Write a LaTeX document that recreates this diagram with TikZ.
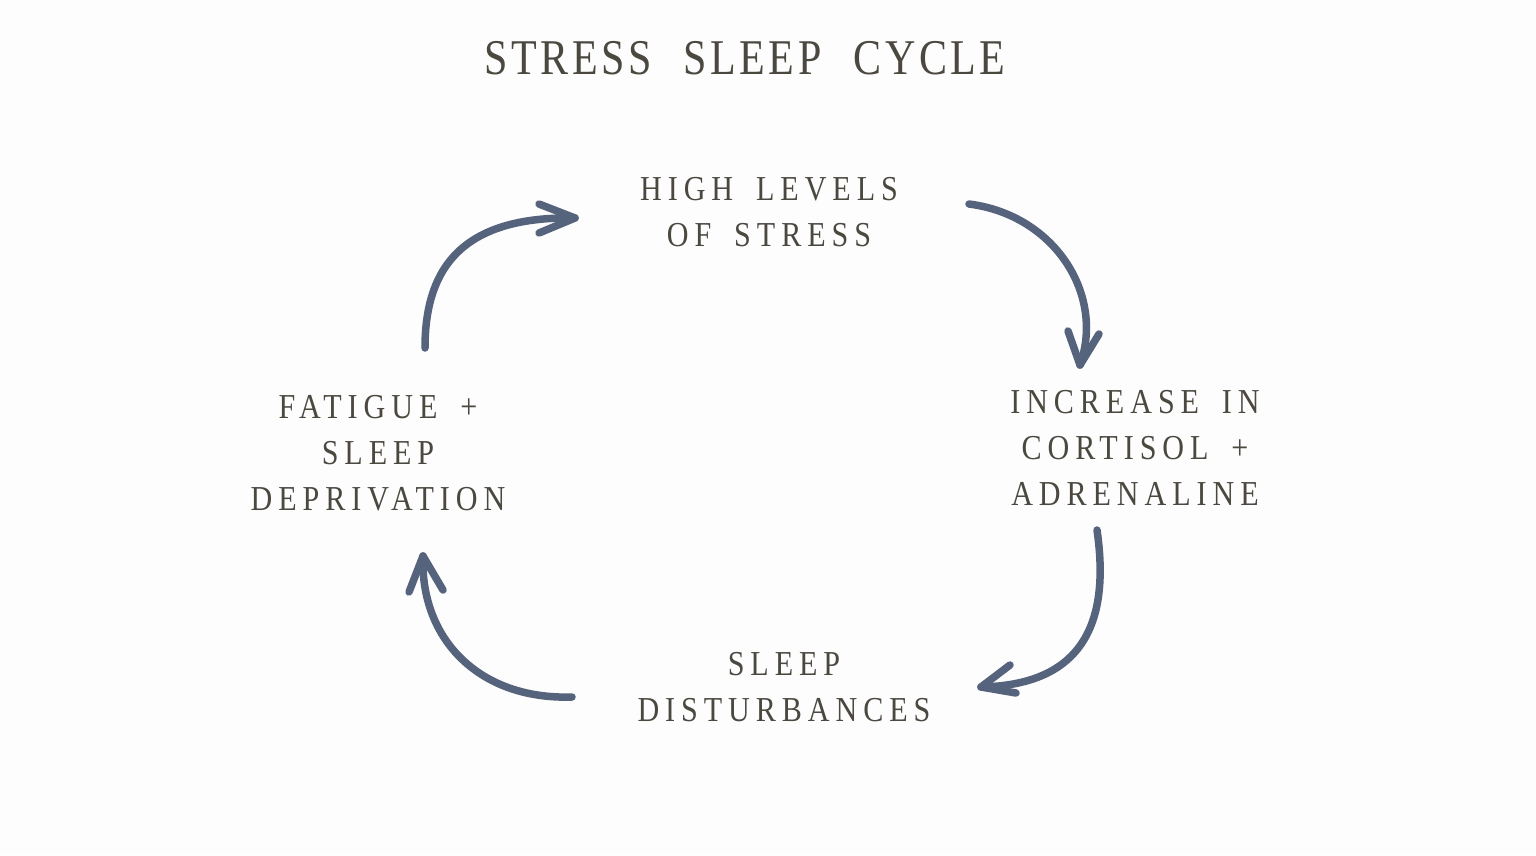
\documentclass[tikz,border=0pt]{standalone}
\usepackage{fontspec}
\setmainfont{Liberation Serif}
\newfontfamily\titlefont[FakeStretch=0.84,LetterSpace=7,WordSpace=2.3]{Liberation Serif}
\newfontfamily\labelfont[FakeStretch=0.86,LetterSpace=17,WordSpace=1.7]{Liberation Serif}
\definecolor{ink}{HTML}{4B4840}
\definecolor{arrowc}{HTML}{56637C}
\definecolor{bg}{HTML}{FDFDFD}
\begin{document}
\begin{tikzpicture}[x=1pt,y=-1pt,
  lbl/.style={text=ink, align=center, inner sep=0pt, font=\labelfont\fontsize{35}{46}\selectfont},
  ttl/.style={text=ink, inner sep=0pt, font=\titlefont\fontsize{50}{60}\selectfont},
  curvy/.style={draw=arrowc, line width=7.5pt, line cap=round},
  barb/.style={draw=arrowc, line width=7.5pt, line cap=round, line join=round}]
\fill[bg] (0,0) rectangle (1536,855);
\useasboundingbox (0,0) rectangle (1536,855);

\node[ttl] (title) at (745,58.5) {STRESS SLEEP CYCLE};

\node[lbl] (stress) at (769,212.5) {HIGH LEVELS\\OF STRESS};
\node[lbl] (cortisol) at (1135,447.5) {INCREASE IN\\CORTISOL +\\ADRENALINE};
\node[lbl] (disturb) at (784,687.5) {SLEEP\\DISTURBANCES};
\node[lbl] (fatigue) at (378,453) {FATIGUE +\\SLEEP\\DEPRIVATION};

% arrow 1: fatigue -> stress
\coordinate (a1s) at (425,348);
\coordinate (a1t) at (575,218);
\draw[curvy] (a1s) .. controls (425,268) and (462,216) .. (a1t);
\draw[barb] (539,204) -- (a1t) -- (539,233);

% arrow 2: stress -> cortisol
\coordinate (a2s) at (969,204);
\coordinate (a2t) at (1080,365);
\draw[curvy] (a2s) .. controls (1055,215) and (1105,295) .. (a2t);
\draw[barb] (1068,331) -- (a2t) -- (1099,334);

% arrow 3: cortisol -> disturbances
\coordinate (a3s) at (1097,530);
\coordinate (a3t) at (981,687);
\draw[curvy] (a3s) .. controls (1110,620) and (1085,685) .. (a3t);
\draw[barb] (1010,665) -- (a3t) -- (1016,693);

% arrow 4: disturbances -> fatigue
\coordinate (a4s) at (572,697);
\coordinate (a4t) at (423,556);
\draw[curvy] (a4s) .. controls (480,700) and (420,640) .. (a4t);
\draw[barb] (409,592) -- (a4t) -- (443,590);
\end{tikzpicture}
\end{document}
